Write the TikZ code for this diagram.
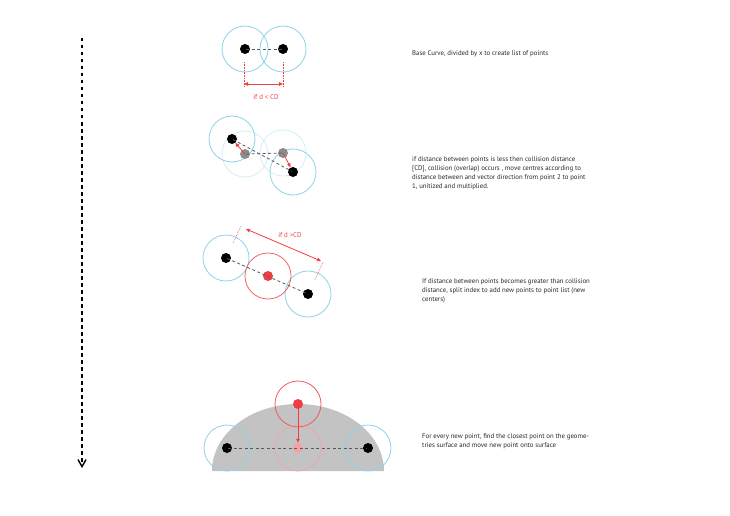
\documentclass[tikz,border=0pt]{standalone}
\usepackage{fontspec}
\setmainfont{PT Sans}
\usetikzlibrary{arrows.meta}
\definecolor{ringblue}{HTML}{8DD3E7}
\definecolor{paleblue}{HTML}{D3EEF6}
\definecolor{cred}{HTML}{EE3E43}
\definecolor{palered}{HTML}{F4A3A5}
\definecolor{domegrey}{HTML}{C3C3C3}
\tikzset{
  dot/.style={circle,fill=black,inner sep=0pt,minimum size=10pt},
  ring/.style={circle,draw=ringblue,line width=0.8pt,inner sep=0pt,minimum size=46pt},
  link/.style={dashed,gray!70!black,line width=0.8pt,dash pattern=on 3pt off 2.5pt,shorten <=-4pt,shorten >=-4pt},
  guide/.style={cred,densely dotted,line width=0.6pt},
  note/.style={anchor=north west,inner sep=0pt,align=left,text=black!85,font=\fontsize{6.8}{9.3}\selectfont},
  tag/.style={text=cred,inner sep=0pt,font=\fontsize{6.9}{8}\selectfont},
  move/.style={cred,line width=0.8pt,-{Triangle[length=4pt,width=3.5pt]}}
}
\begin{document}
\begin{tikzpicture}[x=1pt,y=-1pt]
  \useasboundingbox (0,0) rectangle (730,516);
  % time axis
  \coordinate (top) at (82,38);
  \coordinate (bottom) at (82,468);
  \draw[line width=1.4pt,dash pattern=on 3.5pt off 3.5pt,-{Straight Barb[length=7pt,width=8pt]}] (top) -- (bottom);

  % base curve
  \node[ring] (r1) at (245,49) {};
  \node[ring] (r2) at (283,49) {};
  \node[dot] (a1) at (245,49) {};
  \node[dot] (a2) at (283,49) {};
  \draw[link] (a1) -- (a2);
  \coordinate (u1) at (244,62); \coordinate (v1) at (244,87);
  \coordinate (u2) at (283,62); \coordinate (v2) at (283,87);
  \draw[guide] (u1) -- (v1) (u2) -- (v2);
  \coordinate (w1) at (244,84); \coordinate (w2) at (283,84);
  \draw[cred,line width=0.8pt,{Triangle[length=4pt,width=3.5pt]}-{Triangle[length=4pt,width=3.5pt]}] (w1) -- (w2);
  \node[tag] (lab1) at (266,97) {if d < CD};
  \node[note] (t1) at (412,50) {Base Curve, divided by x to create list of points};

  % collision
  \node[circle,draw=paleblue,line width=0.8pt,minimum size=46pt] (h1) at (245,154) {};
  \node[circle,draw=paleblue,line width=0.8pt,minimum size=46pt] (h2) at (283,153) {};
  \node[ring] (r3) at (232,139) {};
  \node[ring] (r4) at (293,172) {};
  \node[dot,fill=gray!90] (g1) at (245,154) {};
  \node[dot,fill=gray!90] (g2) at (283,153) {};
  \node[dot] (k1) at (232,139) {};
  \node[dot] (k2) at (293,172) {};
  \draw[link] (k1) -- (k2);
  \draw[link] (g1) -- (g2);
  \draw[move] (g1.center) -- (k1);
  \draw[move] (g2.center) -- (k2);
  \node[note] (t2) at (412,156) {if distance between points is less then collision distance\\
    {[}CD{]}, collision (overlap) occurs , move centres according to\\
    distance between and vector direction from point 2 to point\\
    1, unitized and multiplied.};

  % split
  \node[ring] (r5) at (226,258) {};
  \node[ring] (r6) at (308,294) {};
  \node[circle,draw=cred!80,line width=0.8pt,minimum size=46pt] (r7) at (268,276) {};
  \node[dot] (b1) at (226,258) {};
  \node[dot] (b2) at (308,294) {};
  \node[dot,fill=cred] (c1) at (268,276) {};
  \draw[link] (b1) -- (b2);
  \coordinate (p1) at (233,243); \coordinate (p2) at (241,226);
  \coordinate (p3) at (315,280); \coordinate (p4) at (323,262);
  \draw[guide] (p1) -- (p2) (p3) -- (p4);
  \coordinate (q1) at (246,229); \coordinate (q2) at (321,261);
  \draw[cred,line width=0.8pt,{Triangle[length=4pt,width=3.5pt]}-{Triangle[length=4pt,width=3.5pt]}] (q1) -- (q2);
  \node[tag] (lab2) at (290,235) {if d >CD};
  \node[note] (t3) at (422,278) {If distance between points becomes greater than collision\\
    distance, split index to add new points to point list (new\\
    centers)};

  % projection
  \fill[domegrey] plot[domain=0:180,samples=90,smooth] ({298+86*cos(\x)},{471-67*sin(\x)}) -- cycle;
  \node[ring] (r8) at (227,448) {};
  \node[ring] (r9) at (368,448) {};
  \node[circle,draw=cred!85,line width=0.8pt,minimum size=46pt] (r10) at (298,404) {};
  \node[circle,draw=palered,line width=0.7pt,minimum size=46pt] (r11) at (298,448) {};
  \node[dot] (e1) at (227,448) {};
  \node[dot] (e2) at (368,448) {};
  \node[dot,fill=palered] (n2) at (298,448) {};
  \node[dot,fill=cred] (n1) at (298,404) {};
  \draw[link] (e1) -- (e2);
  \draw[move] (n1.center) -- (n2);
  \node[note] (t4) at (422,433) {For every new point, find the closest point on the geome-\\
    tries surface and move new point onto surface};
\end{tikzpicture}
\end{document}
